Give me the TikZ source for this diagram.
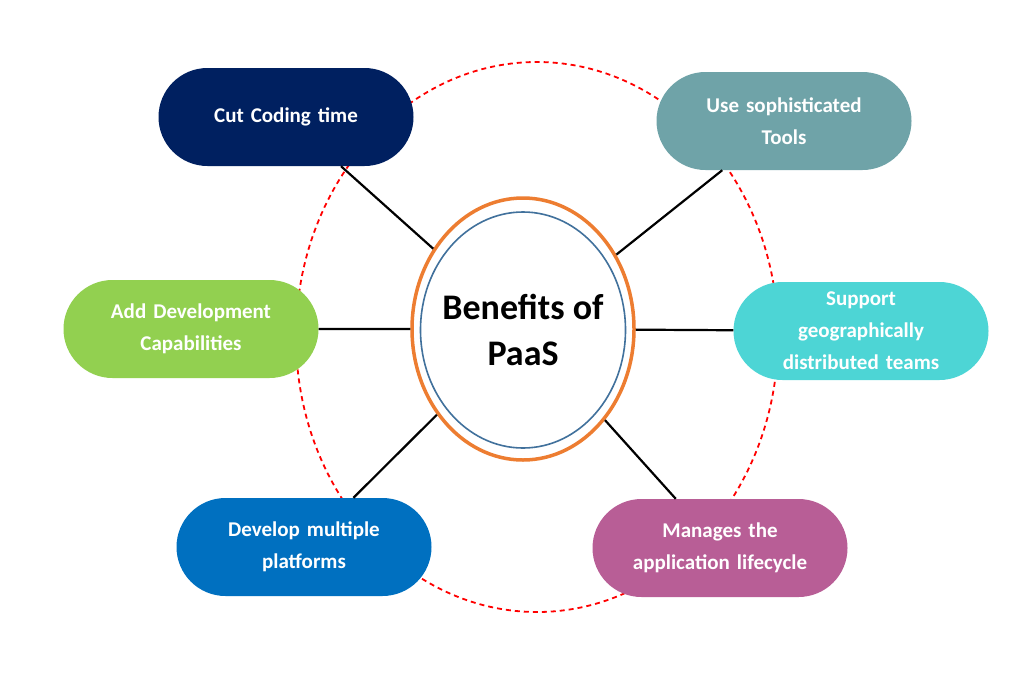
\documentclass[tikz,border=0pt]{standalone}
\usepackage{fontspec}
\setmainfont{Carlito}
\usetikzlibrary{shapes.geometric,shapes.misc}
\definecolor{cNavy}{HTML}{002060}
\definecolor{cTeal}{HTML}{6FA3A8}
\definecolor{cGreen}{HTML}{92D050}
\definecolor{cCyan}{HTML}{4DD5D5}
\definecolor{cBlue}{HTML}{0070C0}
\definecolor{cPink}{HTML}{B85E96}
\definecolor{cOrange}{HTML}{ED7D31}
\definecolor{cRing}{HTML}{41719C}
\begin{document}
\begin{tikzpicture}[x=1pt,y=-1pt,
  box/.style={rounded rectangle, minimum width=255pt, minimum height=98pt, inner sep=0pt,
    text=white, font=\bfseries\fontsize{21}{32}\selectfont, align=center, text width=190pt},
  link/.style={line width=2.2pt, black}]
\useasboundingbox (0,0) rectangle (1024,683);
\draw[red, dashed, line width=1.8pt, dash pattern=on 5pt off 4pt] (537,337) ellipse [x radius=241, y radius=275];
\node[ellipse, draw=cOrange, line width=3.5pt, fill=white, inner sep=0pt, minimum width=222pt, minimum height=262pt] (orange) at (523,329) {};
\node[ellipse, draw=cRing, line width=1.6pt, inner sep=0pt, minimum width=205pt, minimum height=236pt] (core) at (523,330) {};
\node[font=\bfseries\fontsize{36}{46}\selectfont, align=center] (title) at (core.center) {Benefits of\\PaaS};
\node[box, fill=cNavy] (cut) at (286,117) {Cut Coding time};
\node[box, fill=cTeal] (tools) at (784,121) {Use sophisticated\\Tools};
\node[box, fill=cGreen] (add) at (191,329) {Add Development\\Capabilities};
\node[box, fill=cCyan] (sup) at (861,331) {Support\\geographically\\distributed teams};
\node[box, fill=cBlue] (dev) at (304,547) {Develop multiple\\platforms};
\node[box, fill=cPink] (man) at (720,548) {Manages the\\application lifecycle};
\draw[link] (cut) -- (orange);
\draw[link] (tools) -- (orange);
\draw[link] (add) -- (orange);
\draw[link] (sup) -- (orange);
\draw[link] (dev) -- (orange);
\draw[link] (man) -- (orange);
\end{tikzpicture}
\end{document}
